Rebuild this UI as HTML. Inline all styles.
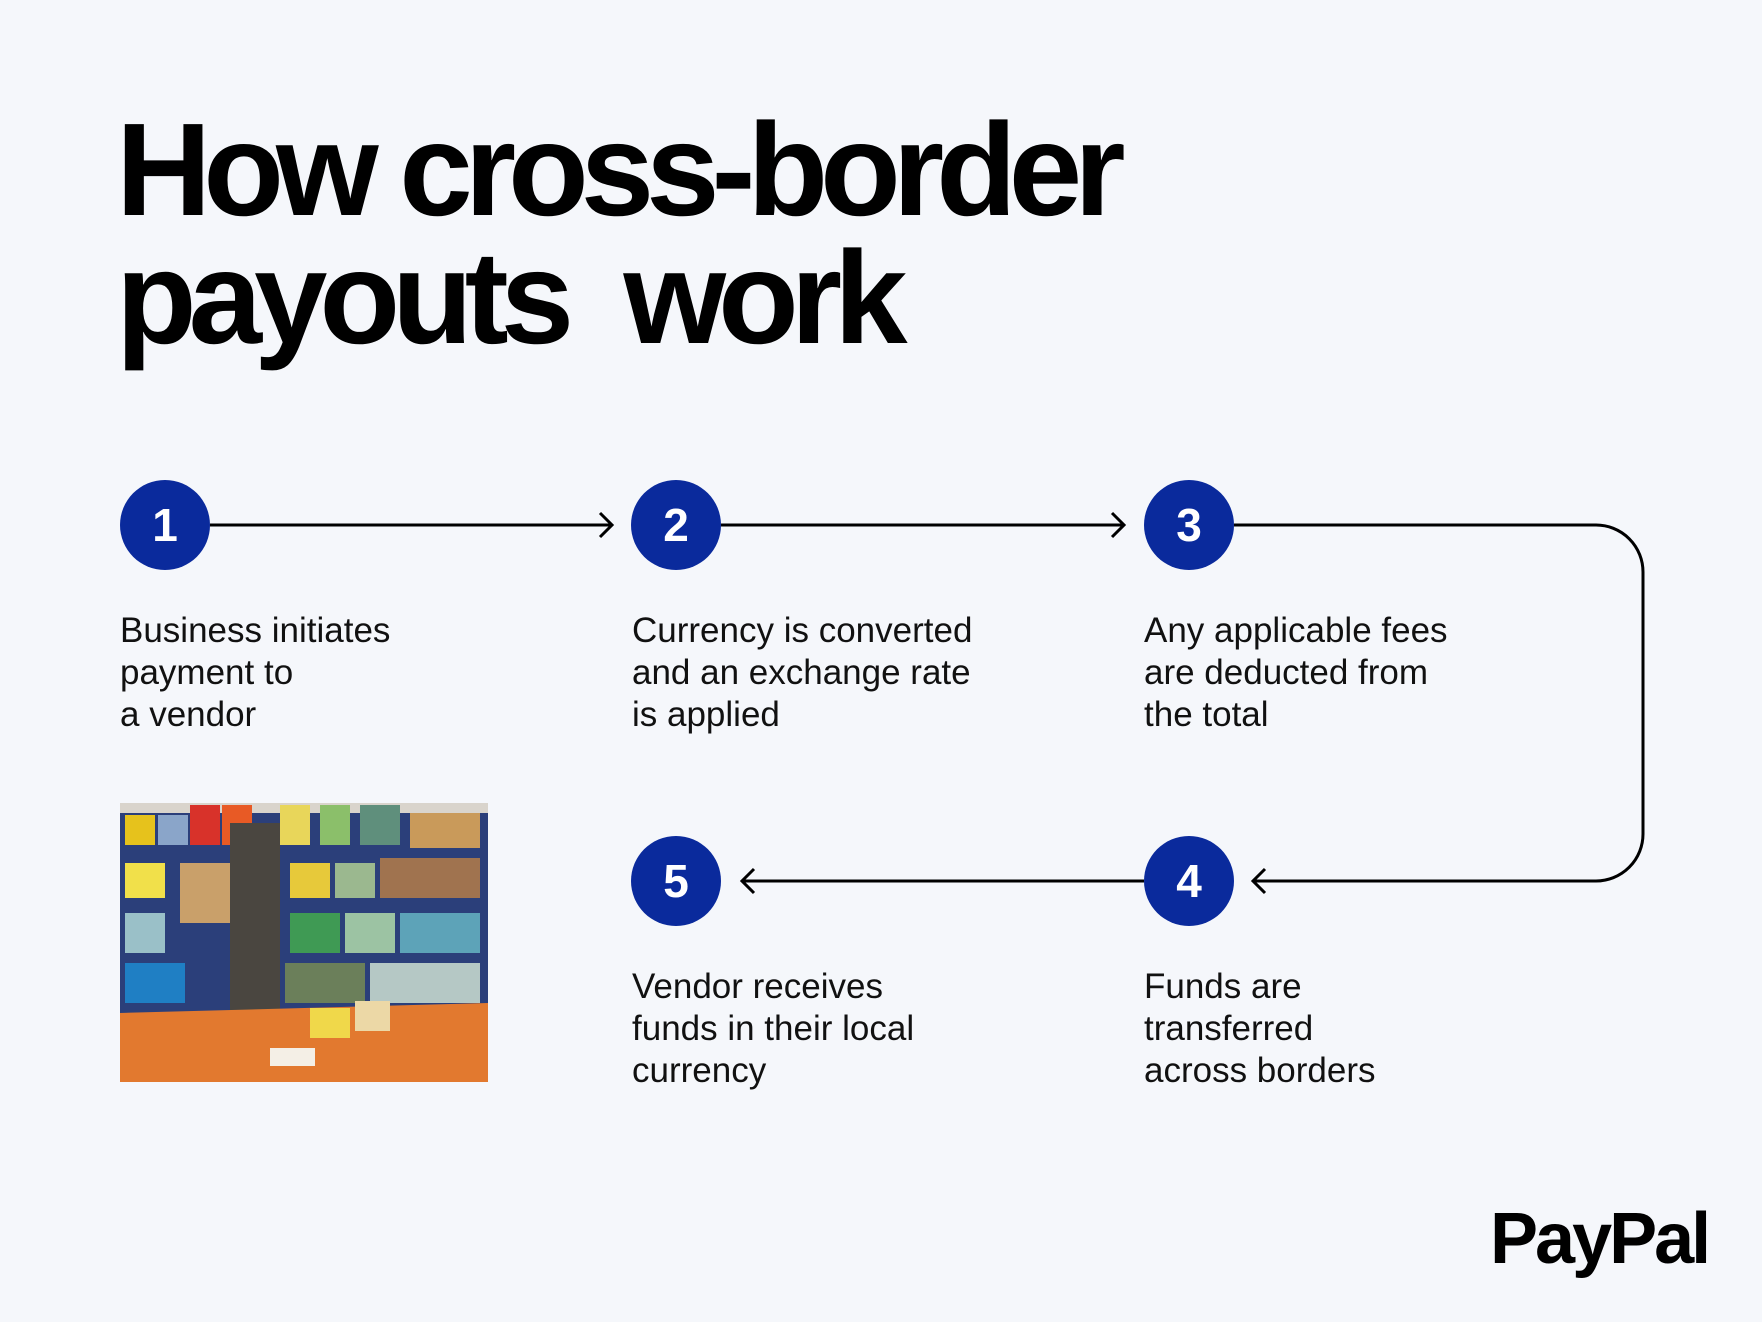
<!DOCTYPE html>
<html><head><meta charset="utf-8"><style>
html,body{margin:0;padding:0}
body{width:1762px;height:1322px;background:#f5f7fb;position:relative;overflow:hidden;font-family:"Liberation Sans",sans-serif;color:#000}
.t{position:absolute;left:116px;font-weight:bold;font-size:132px;letter-spacing:-8px;line-height:1;white-space:nowrap}
.c{position:absolute;width:90px;height:90px;border-radius:50%;background:#0a2a9c;color:#fff;font-weight:bold;font-size:46px;line-height:90px;text-align:center}
.p{position:absolute;font-size:35px;line-height:42px;color:#111;white-space:nowrap}
.logo{position:absolute;left:1490px;top:1198px;font-weight:bold;font-size:72px;letter-spacing:-3px;color:#000}
</style></head><body>
<div class="t" style="top:104px">How cross-border</div>
<div class="t" style="top:232px">payouts&nbsp; work</div>
<svg width="1762" height="1322" style="position:absolute;left:0;top:0" fill="none" stroke="#000" stroke-width="3">
<line x1="210" y1="525" x2="612" y2="525"/><polyline points="600,513 612,525 600,537"/>
<line x1="721" y1="525" x2="1124" y2="525"/><polyline points="1112,513 1124,525 1112,537"/>
<path d="M1234 525 H1596 A47 47 0 0 1 1643 572 V834 A47 47 0 0 1 1596 881 H1253"/><polyline points="1265,869 1253,881 1265,893"/>
<line x1="1144" y1="881" x2="742" y2="881"/><polyline points="754,869 742,881 754,893"/>
</svg>
<div class="c" style="left:120px;top:480px">1</div>
<div class="c" style="left:631px;top:480px">2</div>
<div class="c" style="left:1144px;top:480px">3</div>
<div class="c" style="left:1144px;top:836px">4</div>
<div class="c" style="left:631px;top:836px">5</div>
<div class="p" style="left:120px;top:610px">Business initiates<br>payment to<br>a vendor</div>
<div class="p" style="left:632px;top:610px">Currency is converted<br>and an exchange rate<br>is applied</div>
<div class="p" style="left:1144px;top:610px">Any applicable fees<br>are deducted from<br>the total</div>
<div class="p" style="left:632px;top:966px">Vendor receives<br>funds in their local<br>currency</div>
<div class="p" style="left:1144px;top:966px">Funds are<br>transferred<br>across borders</div>
<svg style="position:absolute;left:120px;top:803px" width="368" height="279">
<rect width="368" height="279" fill="#d9d4cc"/>
<rect x="0" y="10" width="368" height="230" fill="#2b3f7a"/>
<g>
<rect x="5" y="12" width="30" height="30" fill="#e6c21c"/><rect x="38" y="12" width="30" height="30" fill="#8aa5c9"/><rect x="70" y="2" width="30" height="40" fill="#d8322a"/><rect x="102" y="2" width="30" height="40" fill="#e85a25"/><rect x="160" y="2" width="30" height="40" fill="#e8d65a"/><rect x="200" y="2" width="30" height="40" fill="#8bbf6a"/><rect x="240" y="2" width="40" height="40" fill="#5f8f7c"/><rect x="290" y="10" width="70" height="35" fill="#c99a5a"/>
<rect x="5" y="60" width="40" height="35" fill="#f1e04a"/><rect x="170" y="60" width="40" height="35" fill="#e7c93a"/><rect x="215" y="60" width="40" height="35" fill="#9bb88f"/><rect x="260" y="55" width="100" height="40" fill="#a0734f"/>
<rect x="5" y="110" width="40" height="40" fill="#9ac0c8"/><rect x="170" y="110" width="50" height="40" fill="#3f9a54"/><rect x="225" y="110" width="50" height="40" fill="#9cc3a3"/><rect x="280" y="110" width="80" height="40" fill="#5da3b8"/>
<rect x="5" y="160" width="60" height="40" fill="#1f7fc4"/><rect x="165" y="160" width="80" height="40" fill="#6b7f5a"/><rect x="250" y="160" width="110" height="40" fill="#b5c8c5"/>
<rect x="60" y="60" width="65" height="60" fill="#c9a06a"/><rect x="110" y="20" width="50" height="200" fill="#4a4640"/>
</g>
<polygon points="0,210 368,200 368,279 0,279" fill="#e2792f"/>
<rect x="190" y="205" width="40" height="30" fill="#f0d84a"/><rect x="235" y="198" width="35" height="30" fill="#ecd8a6"/><rect x="150" y="245" width="45" height="18" fill="#f4efe6"/>
</svg>
<div class="logo">PayPal</div>
</body></html>
